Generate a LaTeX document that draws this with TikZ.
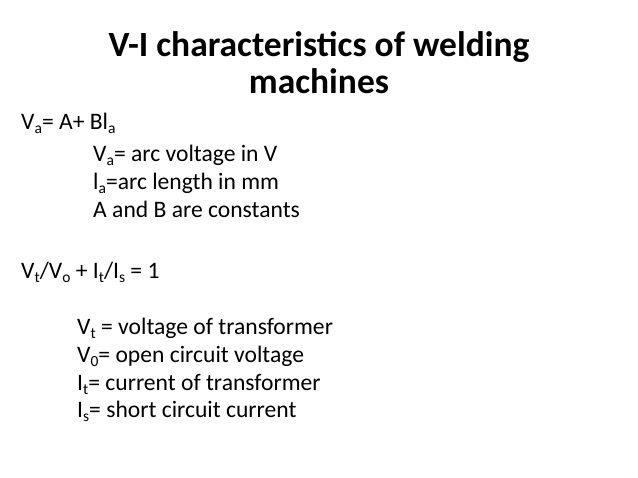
\documentclass[tikz,border=0pt]{standalone}
\usepackage{fontspec}
\setmainfont{Carlito}
\newcommand{\sbx}[1]{\raisebox{-0.35ex}{\fontsize{15.5}{15.5}\selectfont #1}}
\begin{document}
\begin{tikzpicture}[x=1pt,y=-1pt,
  ttl/.style={font=\fontsize{35.5}{40}\selectfont\bfseries,anchor=base,inner sep=0},
  txt/.style={font=\fontsize{23.6}{28}\selectfont,anchor=base west,inner sep=0}]
\fill[white] (0,0) rectangle (638,478);
\node[ttl] (t1) at (319,57) {V-I characteristics of welding};
\node[ttl] (t2) at (319,94) {machines};
\node[txt] (a1) at (21,130) {V\sbx{a}= A+ Bl\sbx{a}};
\node[txt] (a2) at (93,162) {V\sbx{a}= arc voltage in V};
\node[txt] (a3) at (93,190) {l\sbx{a}=arc length in mm};
\node[txt] (a4) at (93,218) {A and B are constants};
\node[txt] (b1) at (21,279) {V\sbx{t}/V\sbx{o} + I\sbx{t}/I\sbx{s} = 1};
\node[txt] (c1) at (77,335) {V\sbx{t} = voltage of transformer};
\node[txt] (c2) at (77,363) {V\sbx{0}= open circuit voltage};
\node[txt] (c3) at (77,391) {I\sbx{t}= current of transformer};
\node[txt] (c4) at (77,418) {I\sbx{s}= short circuit current};
\end{tikzpicture}
\end{document}
